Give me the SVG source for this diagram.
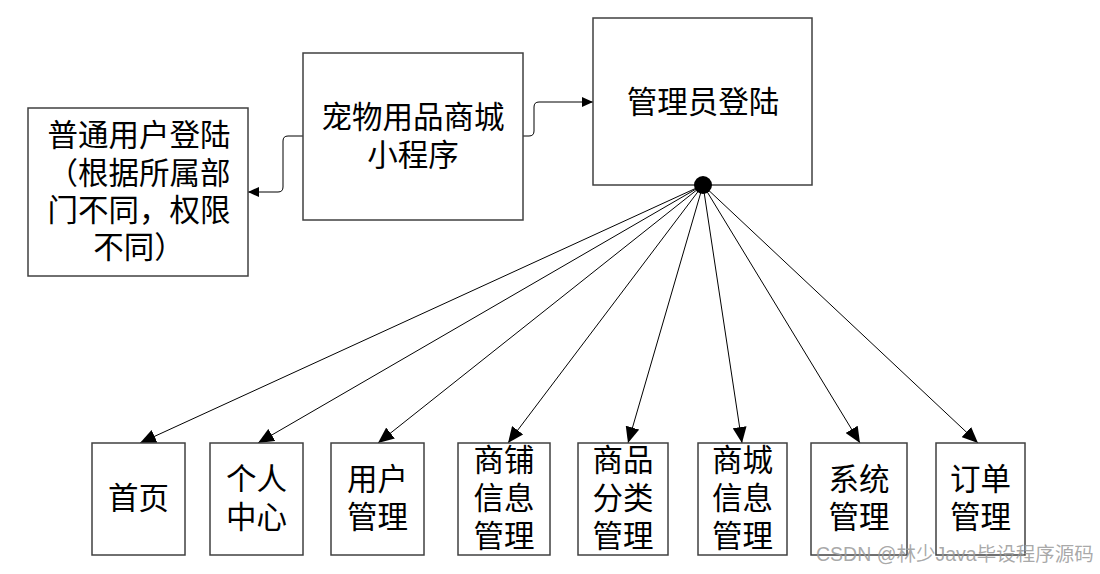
<svg xmlns="http://www.w3.org/2000/svg" width="1100" height="574" viewBox="0 0 1100 574">
<style>
.box{fill:#fff;stroke:#404040;stroke-width:1.5}
.t{font-family:"Liberation Serif","Noto Sans CJK SC",serif;font-size:30.5px;fill:#000;text-anchor:middle}
.c{fill:none;stroke:#000;stroke-width:1}
.wm{font-family:"Liberation Sans","Noto Sans CJK SC",sans-serif;font-size:19.5px;fill:#9a9a9a;fill-opacity:0.85}
</style>
<defs>
<marker id="ah" viewBox="0 0 16 14" refX="16" refY="7" markerWidth="16" markerHeight="14" markerUnits="userSpaceOnUse" orient="auto">
<path d="M0,0 L16,7 L0,14 Z" fill="#000"/>
</marker>
<marker id="ahs" viewBox="0 0 11 10" refX="11" refY="5" markerWidth="11" markerHeight="10" markerUnits="userSpaceOnUse" orient="auto">
<path d="M0,0 L11,5 L0,10 Z" fill="#000"/>
</marker>
</defs>
<rect width="1100" height="574" fill="#fff"/>
<g id="connectors">
<path class="c" d="M303,136 L288,136 Q283,136 283,141 L283,187 Q283,192 278,192 L248,192" marker-end="url(#ahs)"/>
<path class="c" d="M523,136 L529,136 Q534,136 534,131 L534,107 Q534,102 539,102 L593,102" marker-end="url(#ahs)"/>
<line class="c" x1="703" y1="185" x2="140" y2="443" marker-end="url(#ah)"/>
<line class="c" x1="703" y1="185" x2="258" y2="443" marker-end="url(#ah)"/>
<line class="c" x1="703" y1="185" x2="378" y2="443" marker-end="url(#ah)"/>
<line class="c" x1="703" y1="185" x2="508" y2="443" marker-end="url(#ah)"/>
<line class="c" x1="703" y1="185" x2="628" y2="443" marker-end="url(#ah)"/>
<line class="c" x1="703" y1="185" x2="742" y2="443" marker-end="url(#ah)"/>
<line class="c" x1="703" y1="185" x2="860" y2="443" marker-end="url(#ah)"/>
<line class="c" x1="703" y1="185" x2="978" y2="443" marker-end="url(#ah)"/>
</g>
<g id="n-user">
<rect class="box" x="28" y="108" width="220" height="168"/>
<text class="t" x="139" y="146">普通用户登陆</text>
<text class="t" x="139" y="184">（根据所属部</text>
<text class="t" x="139" y="221">门不同，权限</text>
<text class="t" x="139" y="258">不同）</text>
</g>
<g id="n-app">
<rect class="box" x="303" y="53" width="220" height="167"/>
<text class="t" x="413" y="128">宠物用品商城</text>
<text class="t" x="413" y="166">小程序</text>
</g>
<g id="n-admin">
<rect class="box" x="593" y="18" width="219" height="167"/>
<text class="t" x="703" y="113">管理员登陆</text>
<circle cx="703" cy="185" r="9" fill="#000"/>
</g>
<g id="n-home">
<rect class="box" x="92" y="443" width="93" height="112"/>
<text class="t" x="138.5" y="509">首页</text>
</g>
<g id="n-personal">
<rect class="box" x="210" y="443" width="93" height="112"/>
<text class="t" x="256.5" y="490">个人</text>
<text class="t" x="256.5" y="528">中心</text>
</g>
<g id="n-usermgmt">
<rect class="box" x="331" y="443" width="93" height="112"/>
<text class="t" x="377.5" y="490">用户</text>
<text class="t" x="377.5" y="528">管理</text>
</g>
<g id="n-shop">
<rect class="box" x="458" y="443" width="92" height="112"/>
<text class="t" x="504" y="471">商铺</text>
<text class="t" x="504" y="509">信息</text>
<text class="t" x="504" y="547">管理</text>
</g>
<g id="n-category">
<rect class="box" x="578" y="443" width="90" height="112"/>
<text class="t" x="623" y="471">商品</text>
<text class="t" x="623" y="509">分类</text>
<text class="t" x="623" y="547">管理</text>
</g>
<g id="n-mall">
<rect class="box" x="698" y="443" width="89" height="112"/>
<text class="t" x="742.5" y="471">商城</text>
<text class="t" x="742.5" y="509">信息</text>
<text class="t" x="742.5" y="547">管理</text>
</g>
<g id="n-system">
<rect class="box" x="811" y="443" width="96" height="112"/>
<text class="t" x="859" y="490">系统</text>
<text class="t" x="859" y="528">管理</text>
</g>
<g id="n-order">
<rect class="box" x="936" y="443" width="89" height="112"/>
<text class="t" x="980.5" y="490">订单</text>
<text class="t" x="980.5" y="528">管理</text>
</g>
<text class="wm" x="816" y="561">CSDN @林少Java毕设程序源码</text>
</svg>
